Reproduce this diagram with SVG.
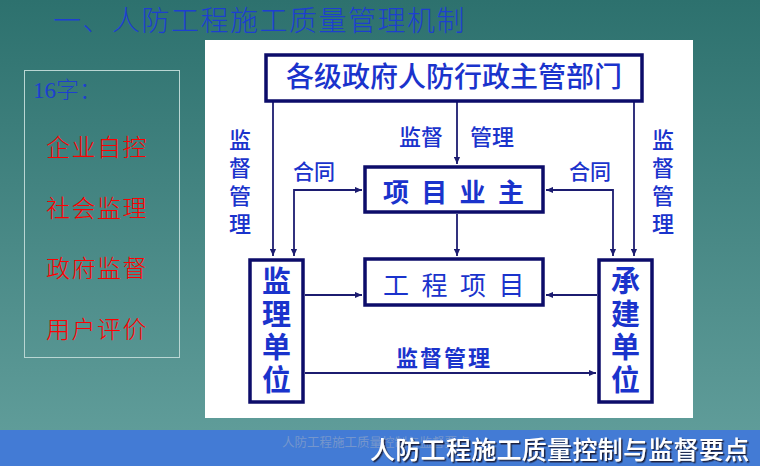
<svg xmlns="http://www.w3.org/2000/svg" width="760" height="466" viewBox="0 0 760 466">
<defs>
<linearGradient id="bg" x1="0" y1="0" x2="0" y2="1">
<stop offset="0" stop-color="#2d716e"/>
<stop offset="1" stop-color="#5f9c99"/>
</linearGradient>
<marker id="ah" viewBox="0 0 8 8" refX="8" refY="4" markerWidth="7" markerHeight="7" markerUnits="userSpaceOnUse" orient="auto-start-reverse">
<path d="M0,0.5 L8,4 L0,7.5 z" fill="#1c1c70"/>
</marker>
<filter id="sh" x="-5%" y="-30%" width="110%" height="160%">
<feDropShadow dx="1.5" dy="1.5" stdDeviation="0.4" flood-color="#1a2440" flood-opacity="1"/>
</filter>
</defs>
<style>
.cjk{font-family:"Noto Sans CJK SC","Noto Sans",sans-serif}
.box{fill:#fff;stroke:#0c0c6a;stroke-width:3.5}
.ln{fill:none;stroke:#1c1c70;stroke-width:1.8}
.bt{fill:#1a33cc;font-family:"Noto Sans CJK SC","Noto Sans",sans-serif}
.vt{writing-mode:vertical-rl;text-orientation:upright}
.red{fill:#ff0000;font-family:"Noto Sans CJK SC",sans-serif;font-size:24px;font-weight:300;letter-spacing:1.5px}
</style>
<rect x="0" y="0" width="760" height="430" fill="url(#bg)"/>
<rect x="0" y="430" width="760" height="36" fill="#437bd5"/>
<text x="53" y="31" class="cjk" font-size="28" font-weight="300" fill="#1d3fd0" letter-spacing="1.5">一、人防工程施工质量管理机制</text>

<g id="left-panel">
<rect x="24.5" y="70.5" width="155" height="287" fill="none" stroke="#b9d6d3" stroke-width="1"/>
<text x="33" y="98" fill="#1d3fd0" font-size="23"><tspan font-family="Liberation Serif,serif">16</tspan><tspan class="cjk" font-weight="300">字：</tspan></text>
<text x="46" y="156" class="red">企业自控</text>
<text x="46" y="217" class="red">社会监理</text>
<text x="46" y="277" class="red">政府监督</text>
<text x="46" y="338" class="red">用户评价</text>
</g>

<rect x="205" y="40" width="488" height="378" fill="#fff"/>

<g id="connectors">
<path class="ln" d="M273,102 V256" marker-end="url(#ah)"/>
<path class="ln" d="M634,102 V256" marker-end="url(#ah)"/>
<path class="ln" d="M457,98 V164" marker-end="url(#ah)"/>
<path class="ln" d="M294,256 V190 H362" marker-start="url(#ah)" marker-end="url(#ah)"/>
<path class="ln" d="M613,256 V190 H546" marker-start="url(#ah)" marker-end="url(#ah)"/>
<path class="ln" d="M457,214 V256" marker-end="url(#ah)"/>
<path class="ln" d="M305,295 H362" marker-end="url(#ah)"/>
<path class="ln" d="M597,295 H546" marker-end="url(#ah)"/>
<path class="ln" d="M305,373 H596" marker-end="url(#ah)"/>
</g>

<g id="labels">
<text class="bt" font-size="22" font-weight="500" x="399" y="145">监督</text>
<text class="bt" font-size="22" font-weight="500" x="470" y="145">管理</text>
<text class="bt" font-size="21" font-weight="500" x="293" y="179">合同</text>
<text class="bt" font-size="21" font-weight="500" x="569" y="179">合同</text>
<text class="bt vt" font-size="22" font-weight="500" x="240" y="129" letter-spacing="6">监督管理</text>
<text class="bt vt" font-size="22" font-weight="500" x="663" y="129" letter-spacing="6">监督管理</text>
<text class="bt" font-size="22" font-weight="700" x="444" y="366" text-anchor="middle" letter-spacing="2">监督管理</text>
</g>

<g id="node-gov">
<rect class="box" x="266" y="55" width="376" height="46"/>
<text class="bt" font-size="28" font-weight="500" x="454" y="87" text-anchor="middle">各级政府人防行政主管部门</text>
</g>

<g id="node-owner">
<rect class="box" x="365" y="167" width="178" height="45"/>
<text class="bt" font-size="26" font-weight="700" x="383" y="202" letter-spacing="12.3">项目业主</text>
</g>

<g id="node-project">
<rect class="box" x="365" y="259" width="178" height="46"/>
<text class="bt" font-size="26" font-weight="400" x="383" y="295" letter-spacing="12.5">工程项目</text>
</g>

<g id="node-supervisor">
<rect class="box" x="250" y="260" width="53" height="142"/>
<text class="bt vt" font-size="29" font-weight="700" x="276.5" y="266" letter-spacing="4">监理单位</text>
</g>

<g id="node-contractor">
<rect class="box" x="599" y="260" width="53" height="142"/>
<text class="bt vt" font-size="29" font-weight="700" x="625.5" y="266" letter-spacing="4">承建单位</text>
</g>

<g id="footer">
<text x="282" y="447" class="cjk" font-size="12.5" fill="#7596cc">人防工程施工质量控制与监督要点</text>
<text x="370" y="459" class="cjk" font-size="25" font-weight="500" fill="#ffffff" letter-spacing="0.3" filter="url(#sh)">人防工程施工质量控制与监督要点</text>
</g>
</svg>
